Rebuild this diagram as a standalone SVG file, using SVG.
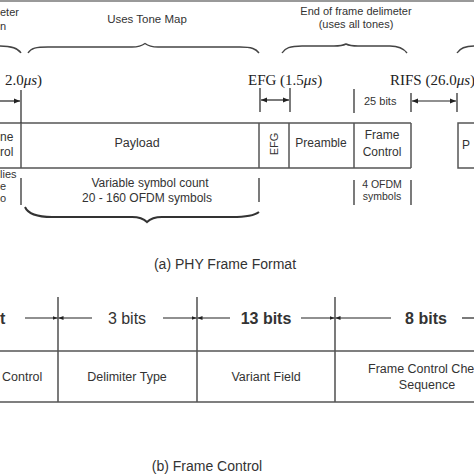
<svg xmlns="http://www.w3.org/2000/svg" width="474" height="474" viewBox="0 0 474 474">
<defs>
<marker id="ah" viewBox="0 0 10 10" refX="10" refY="5" markerWidth="6" markerHeight="6" orient="auto-start-reverse" markerUnits="userSpaceOnUse"><path d="M0,1 L10,5 L0,9 Z" fill="#222"/></marker>
<marker id="sh" viewBox="0 0 10 10" refX="10" refY="5" markerWidth="5" markerHeight="5" orient="auto" markerUnits="userSpaceOnUse"><path d="M0,1 L10,5 L0,9 Z" fill="#222"/></marker>
</defs>
<style>
.t{font-family:"Liberation Sans",Arial,sans-serif;fill:#333;}
.s{font-family:"Liberation Serif","Times New Roman",serif;fill:#222;font-size:15px;}
.c{text-anchor:middle;}
.br{fill:none;stroke:#444;stroke-width:1.4;}
.bx{fill:none;stroke:#555;stroke-width:1.5;}
.tk{stroke:#333;stroke-width:1.3;}
.dm{stroke:#222;stroke-width:1.2;}
</style>
<rect x="0" y="0" width="474" height="474" fill="#fff"/>
<rect x="0" y="0" width="474" height="2" fill="#999"/>

<g id="phy-labels">
<text class="t" x="0" y="16" font-size="11">eter</text>
<text class="t" x="0" y="30" font-size="11">n</text>
<text class="t c" x="147" y="23" font-size="11.5">Uses Tone Map</text>
<text class="t c" x="356" y="15" font-size="11">End of frame delimeter</text>
<text class="t c" x="356" y="28" font-size="11">(uses all tones)</text>
<text class="s" x="42" y="85" text-anchor="end">2.0<tspan font-style="italic">μs</tspan>)</text>
<text class="s" x="248" y="85">EFG (1.5<tspan font-style="italic">μs</tspan>)</text>
<text class="s" x="390" y="85" font-size="13.5">RIFS (26.0<tspan font-style="italic">μs</tspan>)</text>
<text class="t" x="364" y="105" font-size="11">25 bits</text>
</g>

<g id="braces">
<path class="br" d="M0,46 C12,46 18,48 21,53"/>
<path class="br" d="M28,53 C31,48 36,47 48,47 L132,47 C140,47 143,45 145,43.5 C147,45 150,47 158,47 L240,47 C252,47 256,49 259,53"/>
<path class="br" d="M282,53 C285,48 290,46 302,46 L334,46 C341,46 344,45 346,44 C348,45 351,46 358,46 L390,46 C400,46 404,49 407,53"/>
<path class="br" d="M457,53 C460,48 465,46 474,46"/>
<path d="M25,207 C28,214 36,217 52,217 L132,217 C140,217 144,219 147,222 C150,219 154,217 162,217 L232,217 C246,217 254,216 259,212" fill="none" stroke="#333" stroke-width="2"/>
</g>

<g id="phy-box">
<line class="bx" x1="0" y1="123" x2="411" y2="123"/>
<line class="bx" x1="0" y1="168" x2="411" y2="168"/>
<line class="bx" x1="21" y1="123" x2="21" y2="168"/>
<line class="bx" x1="259" y1="123" x2="259" y2="168"/>
<line class="bx" x1="289" y1="123" x2="289" y2="168"/>
<line class="bx" x1="354" y1="123" x2="354" y2="168"/>
<line class="bx" x1="411" y1="123" x2="411" y2="168"/>
<path class="bx" d="M474,123 L458,123 L458,168 L474,168"/>
</g>

<g id="phy-fields">
<text class="t" x="0" y="141" font-size="12">ne</text>
<text class="t" x="0" y="156" font-size="12">rol</text>
<text class="t c" x="137" y="147" font-size="12.5">Payload</text>
<text class="t c" font-size="11" transform="translate(278,144) rotate(-90)">EFG</text>
<text class="t c" x="321" y="147" font-size="12">Preamble</text>
<text class="t c" x="382" y="139" font-size="12">Frame</text>
<text class="t c" x="382" y="156" font-size="12">Control</text>
<text class="t" x="462" y="149" font-size="12">P</text>
<text class="t" x="0" y="178" font-size="11">lies</text>
<text class="t" x="0" y="190" font-size="11">e</text>
<text class="t" x="0" y="202" font-size="11">o</text>
<text class="t c" x="150" y="187" font-size="12">Variable symbol count</text>
<text class="t c" x="147" y="202" font-size="12">20 - 160 OFDM symbols</text>
<text class="t c" x="382" y="188" font-size="10.5">4 OFDM</text>
<text class="t c" x="382" y="200" font-size="10.5">symbols</text>
<text class="t c" x="225" y="269" font-size="14" fill="#444">(a) PHY Frame Format</text>
</g>

<g id="connectors">
<line class="tk" x1="21" y1="90" x2="21" y2="123"/>
<line class="dm" x1="0" y1="101" x2="20" y2="101" marker-end="url(#ah)"/>
<line class="tk" x1="260" y1="88" x2="260" y2="112"/>
<line class="tk" x1="290" y1="88" x2="290" y2="112"/>
<line class="dm" x1="261" y1="100" x2="289" y2="100" marker-start="url(#ah)" marker-end="url(#ah)"/>
<line class="tk" x1="354" y1="89" x2="354" y2="113"/>
<line class="tk" x1="411" y1="93" x2="411" y2="112"/>
<line class="tk" x1="457" y1="93" x2="457" y2="112"/>
<line class="dm" x1="412" y1="101" x2="456" y2="101" marker-start="url(#ah)" marker-end="url(#ah)"/>
<line class="tk" x1="21" y1="178" x2="21" y2="205"/>
<line class="tk" x1="259" y1="178" x2="259" y2="202"/>
<line class="tk" x1="354" y1="180" x2="354" y2="205"/>
<line class="tk" x1="411" y1="180" x2="411" y2="205"/>

<line class="tk" x1="58" y1="297" x2="58" y2="402"/>
<line class="tk" x1="197" y1="297" x2="197" y2="402"/>
<line class="tk" x1="335" y1="297" x2="335" y2="402"/>
<line class="dm" x1="25" y1="318" x2="57.5" y2="318" marker-end="url(#sh)"/>
<line class="dm" x1="92" y1="318" x2="58.5" y2="318" marker-end="url(#sh)"/>
<line class="dm" x1="163" y1="318" x2="196.5" y2="318" marker-end="url(#sh)"/>
<line class="dm" x1="230" y1="318" x2="197.5" y2="318" marker-end="url(#sh)"/>
<line class="dm" x1="301" y1="318" x2="334.5" y2="318" marker-end="url(#sh)"/>
<line class="dm" x1="391" y1="318" x2="335.5" y2="318" marker-end="url(#sh)"/>
<line class="dm" x1="462" y1="318" x2="474" y2="318"/>
</g>

<g id="fc-box">
<line class="bx" x1="0" y1="351" x2="474" y2="351" stroke="#777"/>
<line class="bx" x1="0" y1="402" x2="474" y2="402" stroke="#777"/>
</g>

<g id="fc-fields">
<text class="t" x="0" y="324" font-size="16" font-weight="bold">t</text>
<text class="t c" x="127" y="324" font-size="16">3 bits</text>
<text class="t c" x="266" y="324" font-size="16" font-weight="bold">13 bits</text>
<text class="t c" x="426" y="324" font-size="16" font-weight="bold">8 bits</text>
<text class="t" x="2" y="381" font-size="12.5">Control</text>
<text class="t c" x="127" y="381" font-size="12.5">Delimiter Type</text>
<text class="t c" x="266" y="381" font-size="12.5">Variant Field</text>
<text class="t" x="368" y="373" font-size="12.5">Frame Control Che</text>
<text class="t c" x="427" y="389" font-size="12.5">Sequence</text>
<text class="t c" x="207" y="471" font-size="14" fill="#444">(b) Frame Control</text>
</g>
</svg>
